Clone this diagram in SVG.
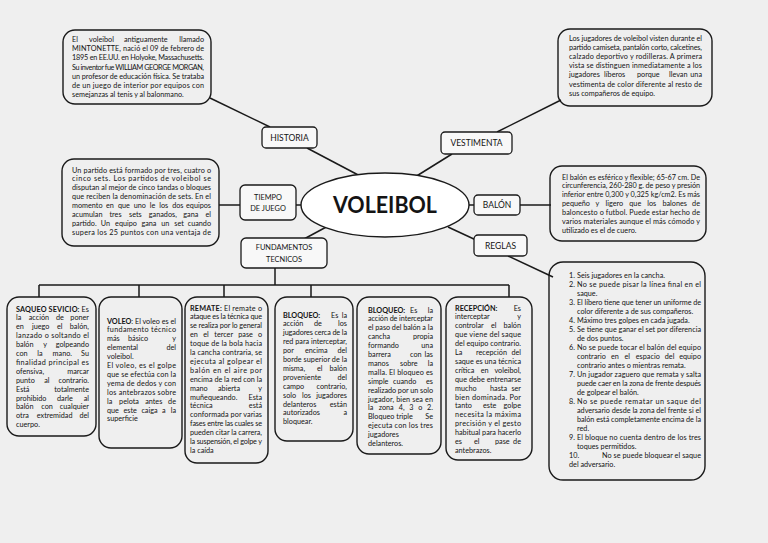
<svg xmlns="http://www.w3.org/2000/svg" width="768" height="543" viewBox="0 0 768 543">
<style>
text { font-family: Lato, "Open Sans", "Liberation Sans", sans-serif; fill: #141414; }
.t { font-size: 7.25px; }
.e { text-anchor: end; }
.b { font-weight: 700; }
.bx { fill: none; stroke: #1a1a1a; stroke-width: 1.4; }
.lb { fill: #f8f8f8; stroke: #1a1a1a; stroke-width: 1.3; }
.cn line, .cn path { stroke: #1a1a1a; stroke-width: 1.5; fill: none; }
.l { font-size: 8.5px; text-anchor: middle; }
.ls { font-size: 7.4px; text-anchor: middle; }
</style>
<rect width="768" height="543" fill="#efefef"/>
<g id="connectors" class="cn">
 <line x1="210" y1="98" x2="270" y2="127"/>
 <line x1="307" y1="148" x2="362" y2="177"/>
 <line x1="497" y1="132" x2="561" y2="100"/>
 <line x1="452" y1="154" x2="415" y2="177"/>
 <line x1="219" y1="205" x2="241" y2="205"/>
 <line x1="295" y1="205" x2="302" y2="205"/>
 <line x1="468" y1="205" x2="475" y2="205"/>
 <line x1="520" y1="205" x2="551" y2="205"/>
 <line x1="448" y1="227" x2="476" y2="240"/>
 <line x1="508" y1="256" x2="553" y2="277"/>
 <line x1="304" y1="239" x2="330" y2="225"/>
 <line x1="275" y1="268" x2="275" y2="285"/>
 <path d="M39 285H509"/>
 <path d="M39 285V297M139 285V297M224 285V297M311 285V297M509 285V297"/>
</g>

<g id="historia-text">
 <rect class="bx" x="63" y="30" width="148" height="74" rx="12"/>
 <text class="t" y="42"><tspan x="72">El</tspan><tspan x="89">voleibol</tspan><tspan x="124">antiguamente</tspan><tspan class="e" x="204">llamado</tspan></text>
 <text class="t" x="72" y="51.2" textLength="132" lengthAdjust="spacing">MINTONETTE, nació el 09 de febrero de</text>
 <text class="t" x="72" y="60.4" textLength="132" lengthAdjust="spacing">1895 en EE.UU. en Holyoke, Massachusetts.</text>
 <text class="t" x="72" y="69.6" textLength="132" lengthAdjust="spacing">Su inventor fue WILLIAM GEORGE MORGAN,</text>
 <text class="t" x="72" y="78.8" textLength="132" lengthAdjust="spacing">un profesor de educación física. Se trataba</text>
 <text class="t" x="72" y="88" textLength="132" lengthAdjust="spacing">de un juego de interior por equipos con</text>
 <text class="t" x="72" y="97.2">semejanzas al tenis y al balonmano.</text>
</g>

<g id="vestimenta-text">
 <rect class="bx" x="558" y="29" width="154" height="77" rx="12"/>
 <text class="t" x="569" y="40.5" textLength="133" lengthAdjust="spacing">Los jugadores de voleibol visten durante el</text>
 <text class="t" x="569" y="49.7" textLength="133" lengthAdjust="spacing">partido camiseta, pantalón corto, calcetines,</text>
 <text class="t" x="569" y="58.9" textLength="133" lengthAdjust="spacing">calzado deportivo y rodilleras. A primera</text>
 <text class="t" x="569" y="68.1" textLength="133" lengthAdjust="spacing">vista se distinguen inmediatamente a los</text>
 <text class="t" y="77.3"><tspan x="569">jugadores</tspan><tspan x="604">líberos</tspan><tspan x="637">porque</tspan><tspan x="669">llevan</tspan><tspan class="e" x="702">una</tspan></text>
 <text class="t" x="569" y="86.5" textLength="133" lengthAdjust="spacing">vestimenta de color diferente al resto de</text>
 <text class="t" x="569" y="95.7">sus compañeros de equipo.</text>
</g>

<g id="tiempo-text">
 <rect class="bx" x="62" y="159" width="157" height="87" rx="12"/>
 <text class="t" x="72" y="172.5" textLength="139" lengthAdjust="spacing">Un partido está formado por tres, cuatro o</text>
 <text class="t" x="72" y="181.4" textLength="139" lengthAdjust="spacing">cinco sets. Los partidos de voleibol se</text>
 <text class="t" x="72" y="190.3" textLength="139" lengthAdjust="spacing">disputan al mejor de cinco tandas o bloques</text>
 <text class="t" x="72" y="199.2" textLength="139" lengthAdjust="spacing">que reciben la denominación de sets. En el</text>
 <text class="t" y="208.1"><tspan x="72">momento</tspan><tspan x="106">en</tspan><tspan x="118">que</tspan><tspan x="133.7">uno</tspan><tspan x="149.7">le</tspan><tspan x="159.3">los</tspan><tspan x="172.2">dos</tspan><tspan class="e" x="211">equipos</tspan></text>
 <text class="t" y="217"><tspan x="72">acumulan</tspan><tspan x="109.5">tres</tspan><tspan x="129">sets</tspan><tspan x="148.8">ganados,</tspan><tspan x="183.3">gana</tspan><tspan class="e" x="211">el</tspan></text>
 <text class="t" y="225.9"><tspan x="72">partido.</tspan><tspan x="100.7">Un</tspan><tspan x="115.1">equipo</tspan><tspan x="141.4">gana</tspan><tspan x="161.2">un</tspan><tspan x="174.3">set</tspan><tspan class="e" x="211">cuando</tspan></text>
 <text class="t" x="72" y="234.8" textLength="139" lengthAdjust="spacing">supera los 25 puntos con una ventaja de</text>
</g>

<g id="balon-text">
 <rect class="bx" x="550" y="166" width="156" height="75" rx="12"/>
 <text class="t" x="562" y="179.5" textLength="138" lengthAdjust="spacing">El balón es esférico y flexible; 65-67 cm. De</text>
 <text class="t" x="562" y="188.4" textLength="138" lengthAdjust="spacing">circunferencia, 260-280 g. de peso y presión</text>
 <text class="t" x="562" y="197.3" textLength="138" lengthAdjust="spacing">inferior entre 0,300 y 0,325 kg/cm2. Es más</text>
 <text class="t" y="206.2"><tspan x="562">pequeño</tspan><tspan x="595.5">y</tspan><tspan x="605.6">ligero</tspan><tspan x="629.3">que</tspan><tspan x="647.3">los</tspan><tspan x="662.4">balones</tspan><tspan class="e" x="700">de</tspan></text>
 <text class="t" x="562" y="215.1" textLength="138" lengthAdjust="spacing">baloncesto o futbol. Puede estar hecho de</text>
 <text class="t" x="562" y="224" textLength="138" lengthAdjust="spacing">varios materiales aunque el más cómodo  y</text>
 <text class="t" x="562" y="232.9">utilizado es el de cuero.</text>
</g>

<g id="historia">
 <rect class="lb" x="262" y="127" width="55" height="21" rx="4"/>
 <text class="l" x="289.5" y="141">HISTORIA</text>
</g>
<g id="vestimenta">
 <rect class="lb" x="441" y="132" width="71" height="22" rx="4"/>
 <text class="l" x="476.5" y="146.3">VESTIMENTA</text>
</g>
<g id="tiempo">
 <rect class="lb" x="240" y="185" width="56" height="35" rx="5"/>
 <text class="ls" x="268" y="199.5">TIEMPO</text>
 <text class="ls" x="268" y="211">DE JUEGO</text>
</g>
<g id="voleibol">
 <ellipse cx="385" cy="205" rx="84" ry="32" fill="#ffffff" stroke="#1a1a1a" stroke-width="1.4"/>
 <text x="385" y="213" text-anchor="middle" font-size="22.5" font-weight="700" textLength="104" lengthAdjust="spacingAndGlyphs">VOLEIBOL</text>
</g>
<g id="balon">
 <rect class="lb" x="474" y="195" width="46" height="20" rx="4"/>
 <text class="l" x="497" y="208">BALÓN</text>
</g>
<g id="reglas">
 <rect class="lb" x="474" y="235" width="53" height="21" rx="4"/>
 <text class="l" x="500.5" y="248.5">REGLAS</text>
</g>
<g id="fundamentos">
 <rect class="lb" x="241" y="238" width="86" height="30" rx="5"/>
 <text class="ls" x="284" y="250" font-size="7.9">FUNDAMENTOS</text>
 <text class="ls" x="284" y="262" font-size="7.9">TECNICOS</text>
</g>

<g id="saque">
 <rect class="bx" x="7" y="297" width="89" height="139" rx="12"/>
 <text class="t" x="16" y="311.5" textLength="73" lengthAdjust="spacing"><tspan class="b">SAQUEO SEVICIO:</tspan> Es</text>
 <text class="t" y="320.4"><tspan x="16">la</tspan><tspan x="28.7">acción</tspan><tspan x="55.9">de</tspan><tspan class="e" x="89">poner</tspan></text>
 <text class="t" y="329.3"><tspan x="16">en</tspan><tspan x="31.9">juego</tspan><tspan x="56.9">el</tspan><tspan class="e" x="89">balón,</tspan></text>
 <text class="t" x="16" y="338.2" textLength="73" lengthAdjust="spacing">lanzado o soltando el</text>
 <text class="t" y="347.1"><tspan x="16">balón</tspan><tspan x="43.2">y</tspan><tspan class="e" x="89">golpeando</tspan></text>
 <text class="t" y="356"><tspan x="16">con</tspan><tspan x="37.3">la</tspan><tspan x="52.6">mano.</tspan><tspan class="e" x="89">Su</tspan></text>
 <text class="t" x="16" y="364.9" textLength="73" lengthAdjust="spacing">finalidad principal es</text>
 <text class="t" y="373.8"><tspan x="16">ofensiva,</tspan><tspan class="e" x="89">marcar</tspan></text>
 <text class="t" y="382.7"><tspan x="16">punto</tspan><tspan x="44.2">al</tspan><tspan class="e" x="89">contrario.</tspan></text>
 <text class="t" y="391.6"><tspan x="16">Está</tspan><tspan class="e" x="89">totalmente</tspan></text>
 <text class="t" y="400.5"><tspan x="16">prohibido</tspan><tspan x="57">darle</tspan><tspan class="e" x="89">al</tspan></text>
 <text class="t" y="409.4"><tspan x="16">balón</tspan><tspan x="41.3">con</tspan><tspan class="e" x="89">cualquier</tspan></text>
 <text class="t" y="418.3"><tspan x="16">otra</tspan><tspan x="36.8">extremidad</tspan><tspan class="e" x="89">del</tspan></text>
 <text class="t" x="16" y="427.2">cuerpo.</text>
</g>

<g id="voleo">
 <rect class="bx" x="99" y="297" width="83" height="151" rx="12"/>
 <text class="t" x="107" y="323.5" textLength="69" lengthAdjust="spacing"><tspan class="b">VOLEO</tspan>: El voleo es el</text>
 <text class="t" x="107" y="332.4" textLength="69" lengthAdjust="spacing">fundamento técnico</text>
 <text class="t" y="341.3"><tspan x="107">más</tspan><tspan x="128">básico</tspan><tspan class="e" x="176">y</tspan></text>
 <text class="t" y="350.2"><tspan x="107">elemental</tspan><tspan class="e" x="176">del</tspan></text>
 <text class="t" x="107" y="359.1">voleibol.</text>
 <text class="t" x="107" y="368" textLength="69" lengthAdjust="spacing">El voleo, es el golpe</text>
 <text class="t" x="107" y="376.9" textLength="69" lengthAdjust="spacing">que se efectúa con la</text>
 <text class="t" x="107" y="385.8" textLength="69" lengthAdjust="spacing">yema de dedos y con</text>
 <text class="t" x="107" y="394.7" textLength="69" lengthAdjust="spacing">los antebrazos sobre</text>
 <text class="t" y="403.6"><tspan x="107">la</tspan><tspan x="119.1">pelota</tspan><tspan x="145.2">antes</tspan><tspan class="e" x="176">de</tspan></text>
 <text class="t" y="412.5"><tspan x="107">que</tspan><tspan x="123.5">este</tspan><tspan x="141.4">caiga</tspan><tspan x="162.1">a</tspan><tspan class="e" x="176">la</tspan></text>
 <text class="t" x="107" y="421.4">superficie</text>
</g>

<g id="remate">
 <rect class="bx" x="185" y="297" width="83" height="166" rx="12"/>
 <text class="t" x="190" y="310.5" textLength="72" lengthAdjust="spacing"><tspan class="b">REMATE:</tspan> El remate o</text>
 <text class="t" x="190" y="319.4" textLength="72" lengthAdjust="spacing">ataque es la técnica que</text>
 <text class="t" x="190" y="328.3" textLength="72" lengthAdjust="spacing">se realiza por lo general</text>
 <text class="t" y="337.2"><tspan x="190">en</tspan><tspan x="203.3">el</tspan><tspan x="214.3">tercer</tspan><tspan x="238.3">pase</tspan><tspan class="e" x="262">o</tspan></text>
 <text class="t" x="190" y="346.1" textLength="72" lengthAdjust="spacing">toque de la bola hacia</text>
 <text class="t" x="190" y="355" textLength="72" lengthAdjust="spacing">la cancha contraria, se</text>
 <text class="t" x="190" y="363.9" textLength="72" lengthAdjust="spacing">ejecuta al golpear el</text>
 <text class="t" x="190" y="372.8" textLength="72" lengthAdjust="spacing">balón en el aire por</text>
 <text class="t" x="190" y="381.7" textLength="72" lengthAdjust="spacing">encima de la red con la</text>
 <text class="t" y="390.6"><tspan x="190">mano</tspan><tspan x="218">abierta</tspan><tspan class="e" x="262">y</tspan></text>
 <text class="t" y="399.5"><tspan x="190">muñequeando.</tspan><tspan class="e" x="262">Esta</tspan></text>
 <text class="t" y="408.4"><tspan x="190">técnica</tspan><tspan class="e" x="262">está</tspan></text>
 <text class="t" x="190" y="417.3" textLength="72" lengthAdjust="spacing">conformada por varias</text>
 <text class="t" x="190" y="426.2" textLength="72" lengthAdjust="spacing">fases entre las cuales se</text>
 <text class="t" x="190" y="435.1" textLength="72" lengthAdjust="spacing">pueden citar la carrera,</text>
 <text class="t" x="190" y="444" textLength="72" lengthAdjust="spacing">la suspensión, el golpe y</text>
 <text class="t" x="190" y="452.9">la caída</text>
</g>

<g id="bloqueo-1">
 <rect class="bx" x="275" y="297" width="78" height="144" rx="12"/>
 <text class="t" y="317.5"><tspan class="b" x="283">BLOQUEO:</tspan><tspan x="331">Es</tspan><tspan class="e" x="347">la</tspan></text>
 <text class="t" y="326.4"><tspan x="283">acción</tspan><tspan x="314">de</tspan><tspan class="e" x="347">los</tspan></text>
 <text class="t" x="283" y="335.3" textLength="64" lengthAdjust="spacing">jugadores cerca de la</text>
 <text class="t" x="283" y="344.2" textLength="64" lengthAdjust="spacing">red para interceptar,</text>
 <text class="t" y="353.1"><tspan x="283">por</tspan><tspan x="305">encima</tspan><tspan class="e" x="347">del</tspan></text>
 <text class="t" x="283" y="362" textLength="64" lengthAdjust="spacing">borde superior de la</text>
 <text class="t" y="370.9"><tspan x="283">misma,</tspan><tspan x="317">el</tspan><tspan class="e" x="347">balón</tspan></text>
 <text class="t" y="379.8"><tspan x="283">proveniente</tspan><tspan class="e" x="347">del</tspan></text>
 <text class="t" y="388.7"><tspan x="283">campo</tspan><tspan class="e" x="347">contrario,</tspan></text>
 <text class="t" y="397.6"><tspan x="283">solo</tspan><tspan x="302">los</tspan><tspan class="e" x="347">jugadores</tspan></text>
 <text class="t" y="406.5"><tspan x="283">delanteros</tspan><tspan class="e" x="347">están</tspan></text>
 <text class="t" y="415.4"><tspan x="283">autorizados</tspan><tspan class="e" x="347">a</tspan></text>
 <text class="t" x="283" y="424.3">bloquear.</text>
</g>

<g id="bloqueo-2">
 <rect class="bx" x="357" y="297" width="84" height="157" rx="12"/>
 <text class="t" y="312.5"><tspan class="b" x="368">BLOQUEO:</tspan><tspan x="410">Es</tspan><tspan class="e" x="433">la</tspan></text>
 <text class="t" x="368" y="321.4" textLength="65" lengthAdjust="spacing">acción de interceptar</text>
 <text class="t" x="368" y="330.3" textLength="65" lengthAdjust="spacing">el paso del balón a la</text>
 <text class="t" y="339.2"><tspan x="368">cancha</tspan><tspan class="e" x="433">propia</tspan></text>
 <text class="t" y="348.1"><tspan x="368">formando</tspan><tspan class="e" x="433">una</tspan></text>
 <text class="t" y="357"><tspan x="368">barrera</tspan><tspan x="410">con</tspan><tspan class="e" x="433">las</tspan></text>
 <text class="t" y="365.9"><tspan x="368">manos</tspan><tspan x="400">sobre</tspan><tspan class="e" x="433">la</tspan></text>
 <text class="t" x="368" y="374.8" textLength="65" lengthAdjust="spacing">malla. El bloqueo es</text>
 <text class="t" y="383.7"><tspan x="368">simple</tspan><tspan x="393">cuando</tspan><tspan class="e" x="433">es</tspan></text>
 <text class="t" x="368" y="392.6" textLength="65" lengthAdjust="spacing">realizado por un solo</text>
 <text class="t" x="368" y="401.5" textLength="65" lengthAdjust="spacing">jugador, bien sea en</text>
 <text class="t" y="410.4"><tspan x="368">la</tspan><tspan x="378.7">zona</tspan><tspan x="398.7">4,</tspan><tspan x="409.2">3</tspan><tspan x="418.3">o</tspan><tspan class="e" x="433">2.</tspan></text>
 <text class="t" y="419.3"><tspan x="368">Bloqueo triple</tspan><tspan class="e" x="433">Se</tspan></text>
 <text class="t" x="368" y="428.2" textLength="65" lengthAdjust="spacing">ejecuta con los tres</text>
 <text class="t" x="368" y="437.1">jugadores</text>
 <text class="t" x="368" y="446">delanteros.</text>
</g>

<g id="recepcion">
 <rect class="bx" x="446" y="297" width="86" height="163" rx="12"/>
 <text class="t" y="310.5"><tspan class="b" x="455">RECEPCIÓN:</tspan><tspan class="e" x="521">Es</tspan></text>
 <text class="t" y="319.4"><tspan x="455">interceptar</tspan><tspan class="e" x="521">y</tspan></text>
 <text class="t" y="328.3"><tspan x="455">controlar</tspan><tspan x="490.9">el</tspan><tspan class="e" x="521">balón</tspan></text>
 <text class="t" x="455" y="337.2" textLength="66" lengthAdjust="spacing">que viene del saque</text>
 <text class="t" x="455" y="346.1" textLength="66" lengthAdjust="spacing">del equipo contrario.</text>
 <text class="t" y="355"><tspan x="455">La</tspan><tspan x="476">recepción</tspan><tspan class="e" x="521">del</tspan></text>
 <text class="t" x="455" y="363.9" textLength="66" lengthAdjust="spacing">saque es una técnica</text>
 <text class="t" y="372.8"><tspan x="455">crítica</tspan><tspan x="480.7">en</tspan><tspan class="e" x="521">voleibol,</tspan></text>
 <text class="t" x="455" y="381.7" textLength="66" lengthAdjust="spacing">que debe entrenarse</text>
 <text class="t" y="390.6"><tspan x="455">mucho</tspan><tspan x="490">hasta</tspan><tspan class="e" x="521">ser</tspan></text>
 <text class="t" x="455" y="399.5" textLength="66" lengthAdjust="spacing">bien dominada. Por</text>
 <text class="t" y="408.4"><tspan x="455">tanto</tspan><tspan x="483">este</tspan><tspan class="e" x="521">golpe</tspan></text>
 <text class="t" x="455" y="417.3" textLength="66" lengthAdjust="spacing">necesita la máxima</text>
 <text class="t" x="455" y="426.2" textLength="66" lengthAdjust="spacing">precisión y el gesto</text>
 <text class="t" x="455" y="435.1" textLength="66" lengthAdjust="spacing">habitual para hacerlo</text>
 <text class="t" y="444"><tspan x="455">es</tspan><tspan x="474">el</tspan><tspan x="495">pase</tspan><tspan class="e" x="521">de</tspan></text>
 <text class="t" x="455" y="452.9">antebrazos.</text>
</g>

<g id="reglas-list">
 <rect class="bx" x="549" y="262" width="156" height="218" rx="14"/>
 <text class="t" x="569" y="277.5">1.</text><text class="t" x="577" y="277.5">Seis jugadores en la cancha.</text>
 <text class="t" x="569" y="286.5">2.</text><text class="t" x="577" y="286.5" textLength="124" lengthAdjust="spacing">No se puede pisar la línea  final en el</text>
 <text class="t" x="577" y="295.5">saque.</text>
 <text class="t" x="569" y="304.5">3.</text><text class="t" x="577" y="304.5" textLength="124" lengthAdjust="spacing">El líbero tiene que tener un uniforme de</text>
 <text class="t" x="577" y="313.5">color diferente a de sus compañeros.</text>
 <text class="t" x="569" y="322.5">4.</text><text class="t" x="577" y="322.5">Máximo tres golpes en cada jugada.</text>
 <text class="t" x="569" y="331.5">5.</text><text class="t" x="577" y="331.5" textLength="124" lengthAdjust="spacing">Se tiene que  ganar el set por diferencia</text>
 <text class="t" x="577" y="340.5">de dos puntos.</text>
 <text class="t" x="569" y="349.5">6.</text><text class="t" x="577" y="349.5" textLength="124" lengthAdjust="spacing">No se puede tocar el balón del equipo</text>
 <text class="t" y="358.5"><tspan x="577">contrario</tspan><tspan x="611">en</tspan><tspan x="624.5">el</tspan><tspan x="635.8">espacio</tspan><tspan x="664.8">del</tspan><tspan class="e" x="701">equipo</tspan></text>
 <text class="t" x="577" y="367.5">contrario antes o mientras remata.</text>
 <text class="t" x="569" y="376.5">7.</text><text class="t" x="577" y="376.5" textLength="124" lengthAdjust="spacing">Un jugador zaguero que remata y salta</text>
 <text class="t" x="577" y="385.5" textLength="124" lengthAdjust="spacing">puede caer en la zona de frente después</text>
 <text class="t" x="577" y="394.5">de golpear el balón.</text>
 <text class="t" x="569" y="403.5">8.</text><text class="t" x="577" y="403.5" textLength="124" lengthAdjust="spacing">No se puede rematar un saque del</text>
 <text class="t" x="577" y="412.5" textLength="124" lengthAdjust="spacing">adversario desde la zona del frente si el</text>
 <text class="t" x="577" y="421.5" textLength="124" lengthAdjust="spacing">balón está completamente encima de la</text>
 <text class="t" x="577" y="430.5">red.</text>
 <text class="t" x="569" y="439.5">9.</text><text class="t" x="577" y="439.5" textLength="124" lengthAdjust="spacing">El bloque no cuenta dentro de los tres</text>
 <text class="t" x="577" y="448.5">toques permitidos.</text>
 <text class="t" x="569" y="457.5">10.</text><text class="t" x="602" y="457.5" textLength="99" lengthAdjust="spacing">No se puede bloquear el saque</text>
 <text class="t" x="569" y="466.5">del adversario.</text>
</g>
</svg>
